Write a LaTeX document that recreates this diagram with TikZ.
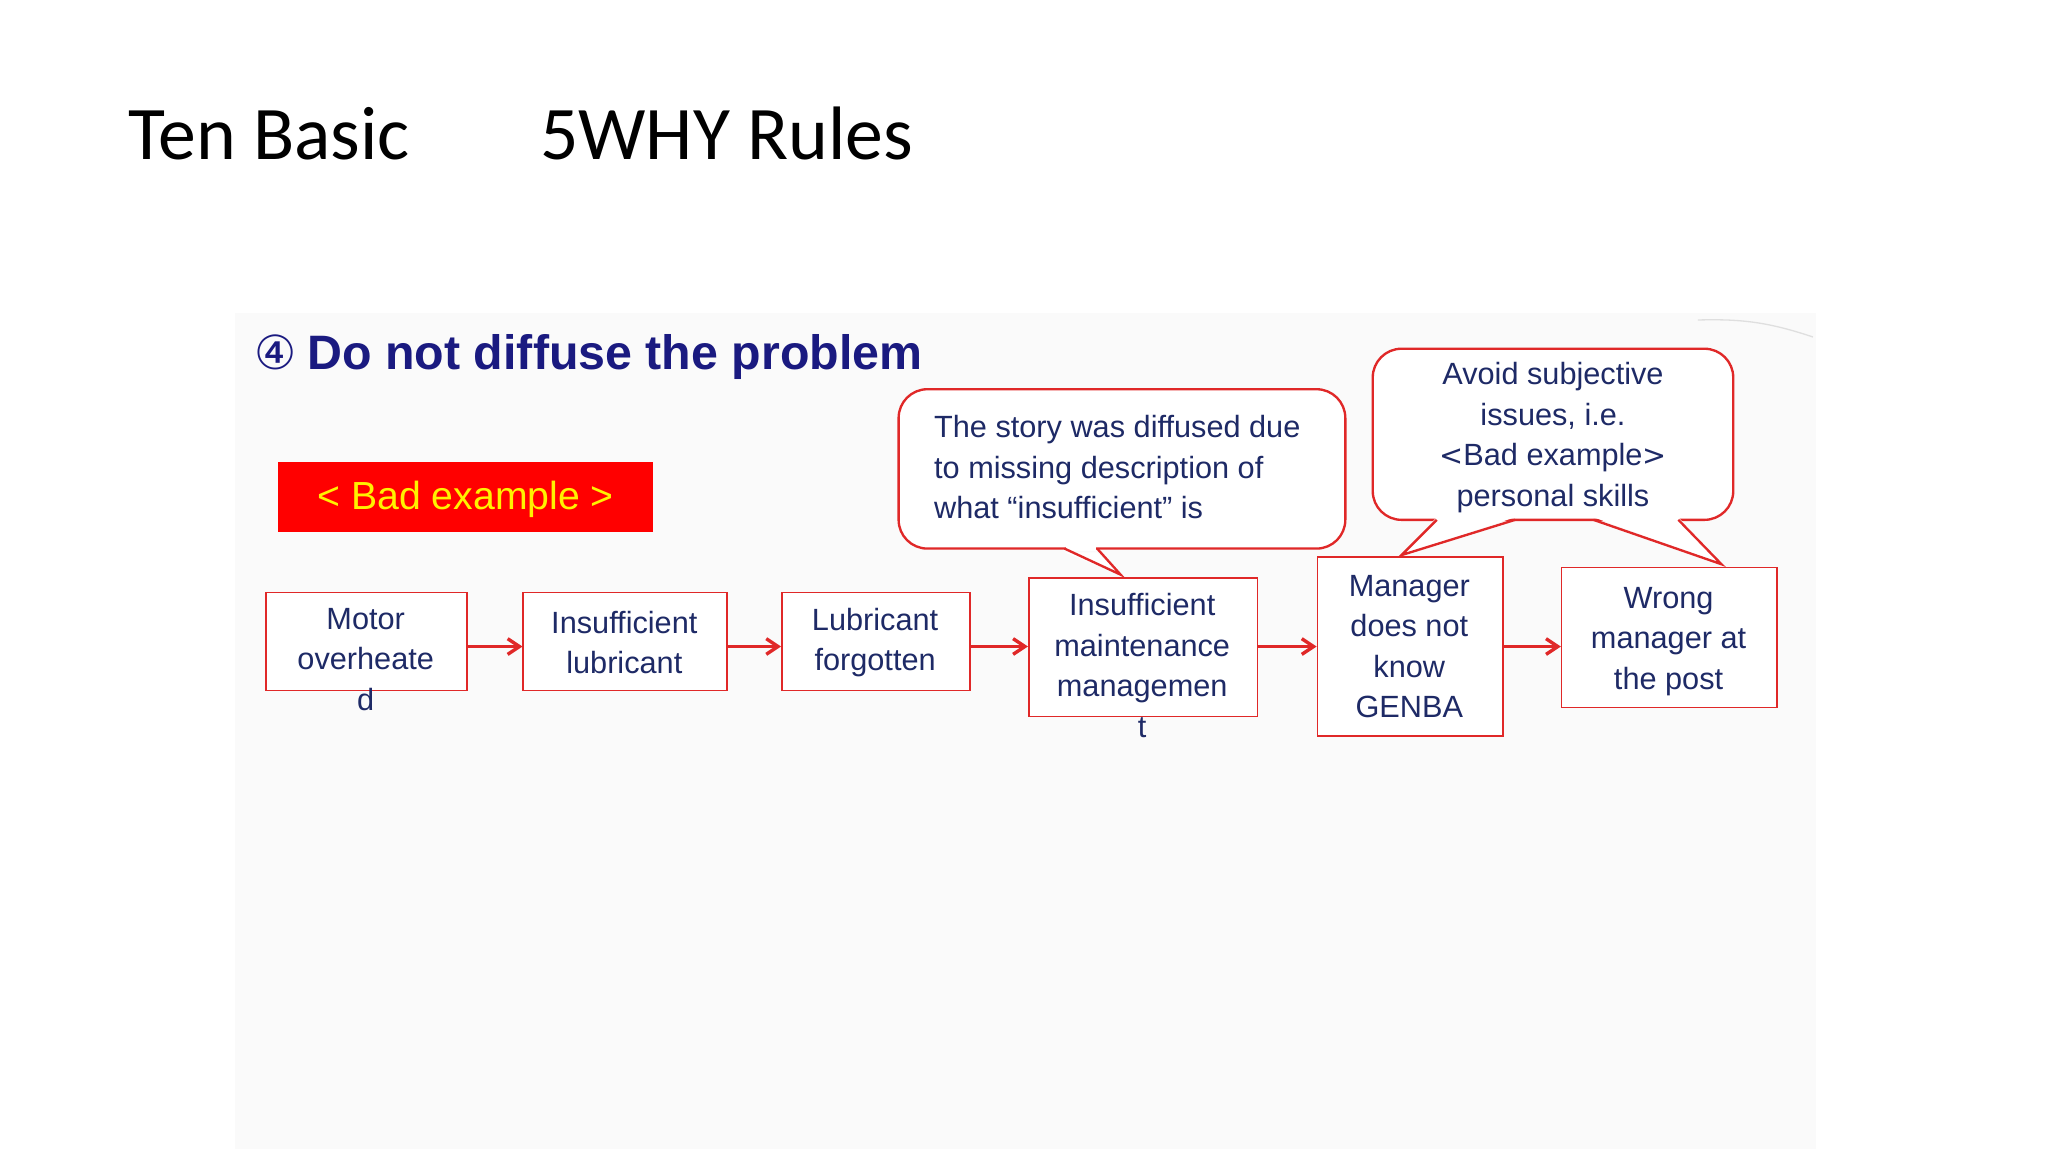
\documentclass[tikz,border=0pt]{standalone}
\usepackage{fontspec}
\setmainfont{Liberation Sans}
\newfontfamily\titlefont{Carlito}
\newfontfamily\symfont{DejaVu Sans}
\usetikzlibrary{arrows.meta}
\definecolor{navy}{HTML}{1A1A80}
\definecolor{txt}{HTML}{1E2A66}
\definecolor{rd}{HTML}{E02828}
\begin{document}
\begin{tikzpicture}[x=1pt,y=-1pt,
  box/.style={draw=rd,line width=1.2pt,fill=white,inner sep=0pt,anchor=north west},
  arr/.style={draw=rd,line width=2.6pt,-{Straight Barb[length=9pt,width=12pt]}},
  call/.style={draw=rd,line width=1.8pt,rounded corners=22pt,fill=white},
  ctext/.style={text=txt,font=\fontsize{23.5}{31}\selectfont}]
\useasboundingbox (0,0) rectangle (1568,882);
\fill[white] (0,0) rectangle (1568,882);
\fill[gray!4] (180,240) rectangle (1390,880);
\draw[gray!25,line width=1pt] (1300,245) to[bend left=10] (1388,258);
\node[anchor=base west,font=\titlefont\fontsize{58}{64}\selectfont,inner sep=0pt] (title) at (98,122) {Ten Basic\hspace{100pt}5WHY Rules};
\node[anchor=west,text=navy,inner sep=0pt] (head) at (195,273) {{\symfont\fontsize{36}{40}\selectfont ④}\hspace{8pt}{\bfseries\fontsize{37}{40}\selectfont Do not diffuse the problem}};
\fill[red] (213,354) rectangle (500,407);
\node[text=yellow,font=\fontsize{30}{36}\selectfont] (bad) at (356.5,382) {< Bad example >};
% boxes
\node[box,minimum width=154pt,minimum height=75pt] (b1) at (203,453) {};
\node[ctext,align=center,anchor=north] at (280,462) {Motor\\overheate\\d};
\node[box,minimum width=156pt,minimum height=75pt] (b2) at (400,453) {};
\node[ctext,align=center] at (478,492) {Insufficient\\lubricant};
\node[box,minimum width=144pt,minimum height=75pt] (b3) at (598,453) {};
\node[ctext,align=center] at (670,492) {Lubricant\\forgotten};
\node[box,minimum width=175pt,minimum height=106pt] (b4) at (787,442) {};
\node[ctext,align=center,anchor=north] at (874.5,451) {Insufficient\\maintenance\\managemen\\t};
\node[box,minimum width=142pt,minimum height=137pt] (b5) at (1008,426) {};
\node[ctext,align=center] at (1079,495) {Manager\\does not\\know\\GENBA};
\node[box,minimum width=165pt,minimum height=107pt] (b6) at (1195,434) {};
\node[ctext,align=center] at (1277.5,491) {Wrong\\manager at\\the post};
\draw[arr] (b1.east|-0,495) -- (b2.west|-0,495);
\draw[arr] (b2.east|-0,495) -- (b3.west|-0,495);
\draw[arr] (b3.east|-0,495) -- (b4.west|-0,495);
\draw[arr] (b4.east|-0,495) -- (b5.west|-0,495);
\draw[arr] (b5.east|-0,495) -- (b6.west|-0,495);
% callout 1
\draw[call] (688,298) rectangle (1030,420);
\coordinate (p1a) at (815,420); \coordinate (p1b) at (840,420); \coordinate (t1) at (858,440);
\fill[white] ([yshift=-3]p1a) -- (t1) -- ([yshift=-3]p1b) -- cycle;
\fill[white] (816,418) rectangle (839,422);
\draw[draw=rd,line width=1.8pt] (p1a) -- (t1) -- (p1b);
\node[ctext,align=left,anchor=north west,inner sep=0pt] (c1) at (715,318) {The story was diffused due\\to missing description of\\what “insufficient” is};
% callout 2
\draw[call] (1051,267) rectangle (1327,398);
\coordinate (t2) at (1073,425); \coordinate (t3) at (1318,432);
\fill[white] (1100,396) -- (t2) -- (1160,396) -- cycle;
\fill[white] (1220,396) -- (t3) -- (1285,396) -- cycle;
\draw[draw=rd,line width=1.8pt] (1100,398) -- (t2) -- (1160,398);
\draw[draw=rd,line width=1.8pt] (1220,398) -- (t3) -- (1285,398);
\node[ctext,align=center] (c2) at (1189,335) {Avoid subjective\\issues, i.e.\\{\symfont\fontsize{22}{31}\selectfont<}Bad example{\symfont\fontsize{22}{31}\selectfont>}\\personal skills};
\end{tikzpicture}
\end{document}
